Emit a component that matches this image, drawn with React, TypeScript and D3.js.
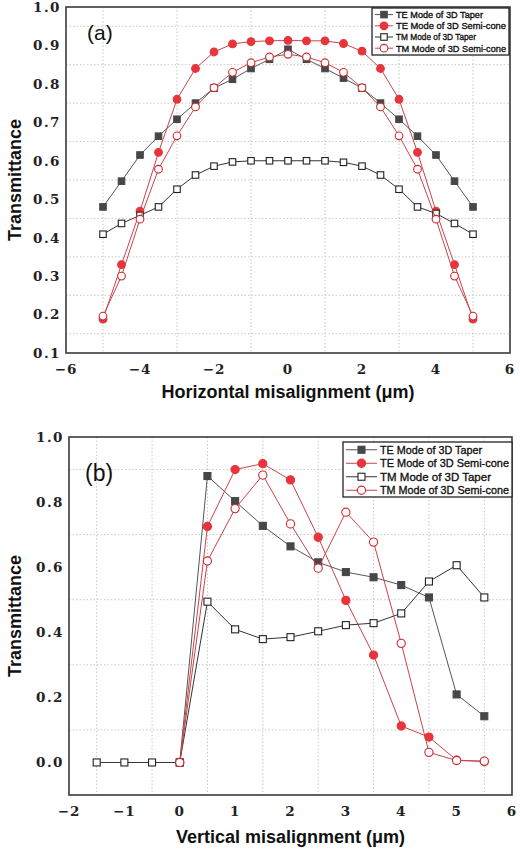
import * as d3 from 'd3'

// panel (a): horizontal misalignment
const xA = [-5, -4.5, -4, -3.5, -3, -2.5, -2, -1.5, -1, -0.5, 0, 0.5, 1, 1.5, 2, 2.5, 3, 3.5, 4, 4.5, 5]
const teTaperA = [0.48, 0.547, 0.615, 0.664, 0.708, 0.75, 0.789, 0.812, 0.84, 0.864, 0.89, 0.864, 0.84, 0.815, 0.789, 0.75, 0.708, 0.664, 0.615, 0.547, 0.48]
const teSemiA = [0.188, 0.33, 0.469, 0.622, 0.76, 0.84, 0.883, 0.904, 0.91, 0.912, 0.913, 0.912, 0.912, 0.905, 0.885, 0.84, 0.76, 0.622, 0.469, 0.33, 0.188]
const tmTaperA = [0.409, 0.437, 0.458, 0.48, 0.526, 0.563, 0.586, 0.597, 0.6, 0.6, 0.6, 0.6, 0.6, 0.596, 0.586, 0.563, 0.526, 0.48, 0.463, 0.437, 0.409]
const tmSemiA = [0.196, 0.3, 0.448, 0.578, 0.665, 0.74, 0.79, 0.83, 0.855, 0.87, 0.877, 0.87, 0.855, 0.83, 0.79, 0.74, 0.665, 0.578, 0.448, 0.3, 0.196]

// panel (b): vertical misalignment
const xB = [0, 0.5, 1, 1.5, 2, 2.5, 3, 3.5, 4, 4.5, 5, 5.5]
const xBTmTaper = [-1.5, -1, -0.5, 0, 0.5, 1, 1.5, 2, 2.5, 3, 3.5, 4, 4.5, 5, 5.5]
const teTaperB = [0, 0.88, 0.803, 0.727, 0.664, 0.615, 0.585, 0.569, 0.545, 0.507, 0.209, 0.142]
const teSemiB = [0, 0.725, 0.9, 0.918, 0.868, 0.692, 0.498, 0.33, 0.112, 0.078, 0.007, 0.003]
const tmTaperB = [0, 0, 0, 0, 0.494, 0.409, 0.379, 0.385, 0.403, 0.422, 0.428, 0.458, 0.556, 0.606, 0.507]
const tmSemiB = [0, 0.619, 0.78, 0.883, 0.733, 0.597, 0.769, 0.677, 0.366, 0.031, 0.006, 0.004]

const seriesNames = ['TE Mode of 3D Taper', 'TE Mode of 3D Semi-cone', 'TM Mode of 3D Taper', 'TM Mode of 3D Semi-cone']

const xTicksA = [-6, -4, -2, 0, 2, 4, 6]
const yTicksA = [0.1, 0.2, 0.3, 0.4, 0.5, 0.6, 0.7, 0.8, 0.9, 1.0]
const xGridA = [-5, -3, -1, 1, 3, 5]
const yGridA = [0.15, 0.25, 0.35, 0.45, 0.55, 0.65, 0.75, 0.85, 0.95]

const xTicksB = [-2, -1, 0, 1, 2, 3, 4, 5, 6]
const yTicksB = [0, 0.2, 0.4, 0.6, 0.8, 1.0]
const xGridB = [-1.5, -0.5, 0.5, 1.5, 2.5, 3.5, 4.5, 5.5]
const yGridB = [0.1, 0.3, 0.5, 0.7, 0.9]

const RED = '#e8343a'
const RED_LINE = '#c8444a'
const GREY = '#474747'

type Style = { kind: 'square' | 'circle'; fill: string; stroke: string; line: string }
const styles: Style[] = [
  { kind: 'square', fill: GREY, stroke: GREY, line: '#555' },
  { kind: 'circle', fill: RED, stroke: RED, line: RED_LINE },
  { kind: 'square', fill: '#fff', stroke: '#222', line: '#333' },
  { kind: 'circle', fill: '#fff', stroke: '#d02a30', line: RED_LINE },
]

const tickFont = 'DejaVu Serif, serif'
const sansFont = 'Liberation Sans, Arial, sans-serif'

function Marker({ s, x, y, size }: { s: Style; x: number; y: number; size: number }) {
  if (s.kind === 'square')
    return <rect x={x - size / 2} y={y - size / 2} width={size} height={size} fill={s.fill} stroke={s.stroke} strokeWidth={1.1} />
  return <circle cx={x} cy={y} r={size / 2 + 0.6} fill={s.fill} stroke={s.stroke} strokeWidth={1.1} />
}

interface PanelProps {
  xDomain: [number, number]
  yDomain: [number, number]
  left: number
  right: number
  top: number
  bottom: number
  xTicks: number[]
  yTicks: number[]
  xGrid: number[]
  yGrid: number[]
  series: { xs: number[]; ys: number[] }[]
  xTitle: string
  tag: string
  tagX: number
  tagY: number
  tagSize: number
  legend: { x0: number; y0: number; x1: number; y1: number; rowH: number; lineW: number; font: number; widths: number[] }
  markerSize: number
  xLabelY: number
  xTitleY: number
}

function Panel(p: PanelProps) {
  const x = d3.scaleLinear().domain(p.xDomain).range([p.left, p.right])
  const y = d3.scaleLinear().domain(p.yDomain).range([p.bottom, p.top])
  const fmtY = d3.format('.1f')
  const fmtX = d3.format('d')
  const lg = p.legend
  return (
    <g>
      {p.xGrid.map(v => (
        <line key={'gx' + v} x1={x(v)} x2={x(v)} y1={p.top} y2={p.bottom} stroke="#c8c8c8" strokeWidth={1} strokeDasharray="1.5 2" />
      ))}
      {p.yGrid.map(v => (
        <line key={'gy' + v} x1={p.left} x2={p.right} y1={y(v)} y2={y(v)} stroke="#c8c8c8" strokeWidth={1} strokeDasharray="1.5 2" />
      ))}
      {p.series.map((se, i) => {
        const pts = se.xs.map((xv, j) => [x(xv), y(se.ys[j])] as [number, number])
        const path = d3.line()(pts) ?? ''
        return (
          <g key={'s' + i}>
            <path d={path} fill="none" stroke={styles[i].line} strokeWidth={1} />
            {pts.map(([px, py], j) => (
              <Marker key={j} s={styles[i]} x={px} y={py} size={p.markerSize} />
            ))}
          </g>
        )
      })}
      <rect x={p.left} y={p.top} width={p.right - p.left} height={p.bottom - p.top} fill="none" stroke="#3a3a3a" strokeWidth={1.6} />
      {p.yTicks.map(v => (
        <text key={'ty' + v} x={p.left - 5} y={y(v)} dy="0.36em" textAnchor="end" fontFamily={tickFont} fontWeight="bold" fontSize={13.5} letterSpacing={1.5} fill="#222">
          {fmtY(v)}
        </text>
      ))}
      {p.xTicks.map(v => (
        <text key={'tx' + v} x={x(v)} y={p.xLabelY} textAnchor="middle" fontFamily={tickFont} fontWeight="bold" fontSize={13.5} letterSpacing={1} fill="#222">
          {fmtX(v)}
        </text>
      ))}
      <text x={(p.left + p.right) / 2} y={p.xTitleY} textAnchor="middle" fontFamily={sansFont} fontWeight="bold" fontSize={18} fill="#111">
        {p.xTitle}
      </text>
      <text transform={`translate(21,${(p.top + p.bottom) / 2}) rotate(-90)`} textAnchor="middle" fontFamily={sansFont} fontWeight="bold" fontSize={18} fill="#111">
        Transmittance
      </text>
      <text x={p.tagX} y={p.tagY} fontFamily={sansFont} fontSize={p.tagSize} fill="#111">
        {p.tag}
      </text>
      <rect x={lg.x0} y={lg.y0} width={lg.x1 - lg.x0} height={lg.y1 - lg.y0} fill="#fff" stroke="#222" strokeWidth={1.3} />
      {seriesNames.map((name, i) => {
        const cy = lg.y0 + lg.rowH * (i + 0.5) + 1
        const lx = lg.x0 + 3
        return (
          <g key={'lg' + i}>
            <line x1={lx} x2={lx + lg.lineW} y1={cy} y2={cy} stroke={styles[i].line} strokeWidth={1} />
            <Marker s={styles[i]} x={lx + lg.lineW / 2} y={cy} size={p.markerSize} />
            <text
              x={lx + lg.lineW + 3}
              y={cy}
              dy="0.35em"
              fontFamily={sansFont}
              fontSize={lg.font}
              textLength={lg.widths[i]}
              lengthAdjust="spacingAndGlyphs"
              fill="#111"
              stroke="#111"
              strokeWidth={0.35}
            >
              {name}
            </text>
          </g>
        )
      })}
    </g>
  )
}

export default function App() {
  return (
    <svg width={520} height={849} style={{ position: 'absolute', left: 0, top: 0, background: '#fff' }}>
      <Panel
        xDomain={[-6, 6]}
        yDomain={[0.1, 1.0]}
        left={66}
        right={510}
        top={7}
        bottom={353}
        xTicks={xTicksA}
        yTicks={yTicksA}
        xGrid={xGridA}
        yGrid={yGridA}
        series={[
          { xs: xA, ys: teTaperA },
          { xs: xA, ys: teSemiA },
          { xs: xA, ys: tmTaperA },
          { xs: xA, ys: tmSemiA },
        ]}
        xTitle="Horizontal misalignment (μm)"
        tag="(a)"
        tagX={87}
        tagY={40}
        tagSize={21}
        legend={{ x0: 372, y0: 8, x1: 509, y1: 55, rowH: 11.2, lineW: 18, font: 9.8, widths: [87, 110, 80, 110] }}
        markerSize={6.5}
        xLabelY={374}
        xTitleY={398}
      />
      <Panel
        xDomain={[-2, 6]}
        yDomain={[-0.1, 1.0]}
        left={69}
        right={512}
        top={437}
        bottom={795}
        xTicks={xTicksB}
        yTicks={yTicksB}
        xGrid={xGridB}
        yGrid={yGridB}
        series={[
          { xs: xB, ys: teTaperB },
          { xs: xB, ys: teSemiB },
          { xs: xBTmTaper, ys: tmTaperB },
          { xs: xB, ys: tmSemiB },
        ]}
        xTitle="Vertical misalignment (μm)"
        tag="(b)"
        tagX={85}
        tagY={481}
        tagSize={23}
        legend={{ x0: 343, y0: 442, x1: 512, y1: 497, rowH: 13.5, lineW: 31, font: 11.8, widths: [102, 129, 111, 129] }}
        markerSize={7}
        xLabelY={816}
        xTitleY={843}
      />
    </svg>
  )
}
